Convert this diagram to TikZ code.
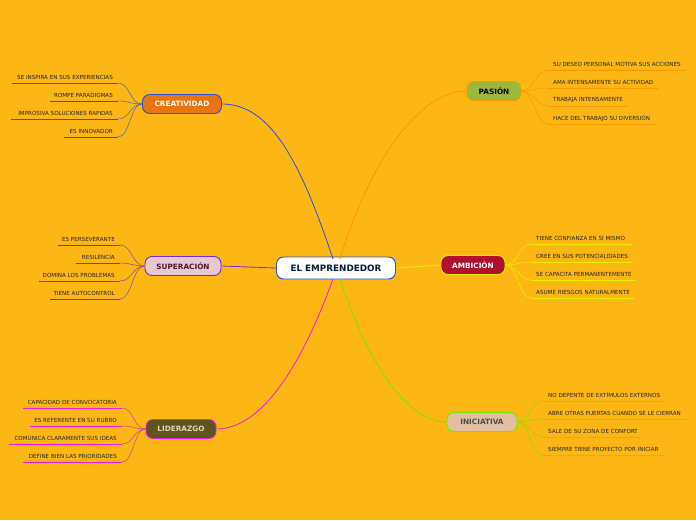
\documentclass[tikz,border=0pt]{standalone}
\usepackage{fontspec}
\setmainfont{DejaVu Sans}
\begin{document}
\begin{tikzpicture}[x=1pt,y=-1pt,
  br/.style={rounded corners=7pt,draw,line width=0.9pt,minimum height=19pt,font=\fontsize{7.3}{8}\selectfont\bfseries,inner xsep=4pt},
  lf/.style={font=\fontsize{5.6}{6}\selectfont,text=black!85,inner sep=0pt},
  con/.style={line width=0.8pt}]
\fill[fill={rgb,255:red,253;green,183;blue,20}] (0,0) rectangle (696,520);
\useasboundingbox (0,0) rectangle (696,520);
\definecolor{cblue}{RGB}{40,80,220}
\definecolor{cpur}{RGB}{120,40,220}
\definecolor{cmag}{RGB}{250,20,220}
\definecolor{cora}{RGB}{255,150,0}
\definecolor{cyel}{RGB}{230,240,0}
\definecolor{cgrn}{RGB}{120,230,0}
\node[br,draw=cblue,fill=white,minimum width=119pt,minimum height=22pt,text={rgb,255:red,0;green,30;blue,70},font=\fontsize{8.8}{9}\selectfont\bfseries] (c) at (336,268) {EL EMPRENDEDOR};
\node[br,draw=cblue,fill={rgb,255:red,232;green,116;blue,15},text=white,minimum width=79pt] (cr) at (182,104) {CREATIVIDAD};
\node[br,draw=cpur,fill={rgb,255:red,232;green,200;blue,208},text={rgb,255:red,80;green,20;blue,50},minimum width=76pt] (su) at (183,266) {SUPERACIÓN};
\node[br,draw=cmag,fill={rgb,255:red,92;green,85;blue,32},text={rgb,255:red,225;green,215;blue,180},minimum width=70pt] (li) at (181,429) {LIDERAZGO};
\node[br,draw=cora,fill={rgb,255:red,156;green,184;blue,58},text=black,minimum width=54pt] (pa) at (494,91) {PASIÓN};
\node[br,draw=cyel,fill={rgb,255:red,176;green,16;blue,46},text=white,minimum width=64pt] (am) at (473,265) {AMBICIÓN};
\node[br,draw=cgrn,fill={rgb,255:red,224;green,192;blue,160},text=black!70,minimum width=70pt] (in) at (482,422) {INICIATIVA};
\coordinate (c1) at (333,259); \coordinate (c2) at (340,259);
\coordinate (c3) at (333,279); \coordinate (c4) at (340,279);
\draw[con,cblue] (c1) .. controls (300,160) and (270,104) .. (cr.east);
\draw[con,cora] (c2) .. controls (370,160) and (420,91) .. (pa.west);
\draw[con,cpur] (c.west) -- (su.east);
\draw[con,cyel] (c.east) -- (am.west);
\draw[con,cmag] (c3) .. controls (300,370) and (260,429) .. (li.east);
\draw[con,cgrn] (c4) .. controls (370,370) and (410,422) .. (in.west);
\foreach \br/\col/\xe/\lst in {cr/cblue/118/{77/12/SE INSPIRA EN SUS EXPERIENCIAS,95/50/ROMPE PARADIGMAS,113/11/IMPROSIVA SOLUCIONES RAPIDAS,131/64/ES INNOVADOR},
  su/cpur/120/{239/58/ES PERSEVERANTE,257/76/RESILENCIA,275/39/DOMINA LOS PROBLEMAS,293/50/TIENE AUTOCONTROL},
  li/cmag/122/{402/23/CAPACIDAD DE CONVOCATORIA,420/30/ES REFERENTE EN SU RUBRO,438/9/COMUNICA CLARAMENTE SUS IDEAS,456/23/DEFINE BIEN LAS PRIORIDADES}}{
  \foreach \y/\xs/\t in \lst {
    \node[lf,anchor=east] (t) at (\xe-5,\y) {\t};
    \coordinate (e) at (\xe,\y+6);
    \draw[\col,line width=1pt] (\xs,\y+6) -- (e);
    \draw[\col!60!gray,line width=0.5pt] (\br.west) .. controls +(-12,0) and +(12,0) .. (e);
  }}
\foreach \br/\col/\xs/\lst in {pa/cora/548/{64/686/SU DESEO PERSONAL MOTIVA SUS ACCIONES,82/658/AMA INTENSAMENTE SU ACTIVIDAD,100/628/TRABAJA INTENSAMENTE,118/656/HACE DEL TRABAJO SU DIVERSIÓN},
  am/cyel/531/{238/632/TIENE CONFIANZA EN SÍ MISMO,256/633/CREE EN SUS POTENCIALIDADES,274/636/SE CAPACITA PERMANENTEMENTE,292/634/ASUME RIESGOS NATURALMENTE},
  in/cgrn/543/{395/665/NO DEPENTE DE EXTÍMULOS EXTERNOS,413/686/ABRE OTRAS PUERTAS CUANDO SE LE CIERRAN,431/642/SALE DE SU ZONA DE CONFORT,449/665/SIEMPRE TIENE PROYECTO POR INICIAR}}{
  \foreach \y/\xe/\t in \lst {
    \node[lf,anchor=west] (t) at (\xs+5,\y) {\t};
    \coordinate (e) at (\xs,\y+6);
    \draw[\col,line width=1pt] (e) -- (\xe,\y+6);
    \draw[\col,line width=0.5pt] (\br.east) .. controls +(12,0) and +(-12,0) .. (e);
  }}
\end{tikzpicture}
\end{document}
